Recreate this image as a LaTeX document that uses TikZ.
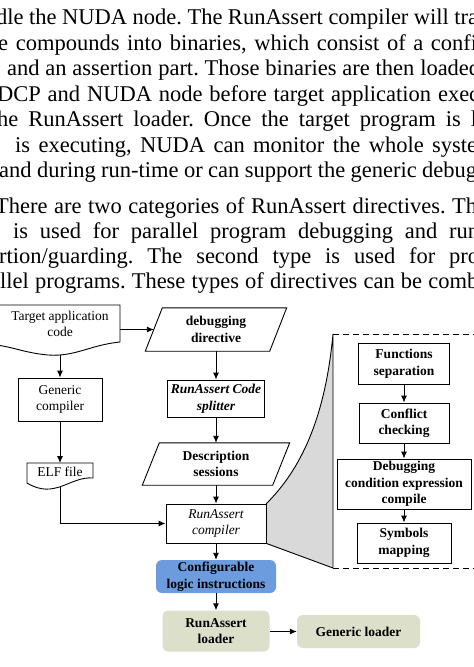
\documentclass[tikz,border=0pt]{standalone}
\usepackage{fontspec}
\setmainfont{Liberation Serif}
\usetikzlibrary{arrows.meta}
\frenchspacing

\definecolor{cfgblue}{HTML}{6C9BDE}
\definecolor{ldrgreen}{HTML}{DCE0CB}
\definecolor{zoomgrey}{HTML}{D9D9D9}

\tikzset{
  txtline/.style={anchor=base west, inner sep=0pt, font=\fontsize{22.5}{25}\selectfont},
  lbl/.style={inner sep=0pt, align=center, font=\fontsize{13.5}{16.5}\selectfont},
  box/.style={lbl, draw, line width=0.9pt},
  roundbox/.style={lbl, rounded corners=6pt},
  shp/.style={line width=0.9pt},
  arr/.style={line width=0.9pt, -{Latex[length=7pt,width=6pt]}}
}

\begin{document}
\begin{tikzpicture}[x=1pt,y=-1pt]
    \useasboundingbox (0,0) rectangle (474,667);
    \clip (0,0) rectangle (474,667);
    \fill[white] (0,0) rectangle (474,667);

    % paper text above the figure
    \node[txtline] (ta) at (-4,24) {\makebox[482pt][s]{dle the NUDA node. The RunAssert compiler will tra}};
    \node[txtline] (tb) at (-2,50) {\makebox[479pt][s]{e compounds into binaries, which consist of a confi}};
    \node[txtline] (tc) at (7,75.5) {\makebox[473pt][s]{and an assertion part. Those binaries are then loaded}};
    \node[txtline] (td) at (-3,101) {\makebox[482pt][s]{DCP and NUDA node before target application exec}};
    \node[txtline] (te) at (-3,126.5) {\makebox[480pt][s]{he RunAssert loader. Once the target program is l}};
    \node[txtline] (tf) at (15,152) {\makebox[462pt][s]{is executing, NUDA can monitor the whole syste}};
    \node[txtline] (tg) at (-1,177) {\makebox[478pt][s]{and during run-time or can support the generic debug}};
    \node[txtline] (th) at (-5,213) {\makebox[482pt][s]{There are two categories of RunAssert directives. Th}};
    \node[txtline] (ti) at (13,238) {\makebox[466pt][s]{is used for parallel program debugging and run}};
    \node[txtline] (tj) at (-1,263) {\makebox[480pt][s]{rtion/guarding. The second type is used for pro}};
    \node[txtline] (tk) at (0,288) {\makebox[478pt][s]{llel programs. These types of directives can be comb}};

    % left column
    \draw[shp] (-5,305) -- (120,305) -- (120,342) .. controls (90,345) and (75,357) .. (48,355)
        .. controls (25,353) and (10,346) .. (-5,345);
    \node[lbl] (tac) at (60,324) {Target application\\code};
    \coordinate (tace) at (120,329.5);
    \coordinate (tacb) at (60,355);
    \node[box, minimum width=84pt, minimum height=43pt] (gc) at (60,399.5) {Generic\\compiler};
    \draw[shp] (27,463) -- (93,463) -- (93,478) .. controls (70,476) and (55,500) .. (27,483) -- cycle;
    \node[lbl] (elf) at (60,472) {ELF file};
    \coordinate (elfb) at (60,486.5);

    % middle column
    \node[lbl, minimum width=124pt, minimum height=43pt] (dd) at (216,329.5) {\bfseries debugging\\\bfseries directive};
    \draw[shp] ([xshift=8.5pt]dd.north west) -- ([xshift=8.5pt]dd.north east)
        -- ([xshift=-8.5pt]dd.south east) -- ([xshift=-8.5pt]dd.south west) -- cycle;
    \node[box, minimum width=97pt, minimum height=37pt] (spl) at (216,398.5) {\bfseries\itshape RunAssert Code\\\bfseries\itshape splitter};
    \node[lbl, minimum width=130pt, minimum height=42pt] (ds) at (216,464) {\bfseries Description\\\bfseries sessions};
    \draw[shp] ([xshift=8.5pt]ds.north west) -- ([xshift=8.5pt]ds.north east)
        -- ([xshift=-8.5pt]ds.south east) -- ([xshift=-8.5pt]ds.south west) -- cycle;
    \node[box, minimum width=100pt, minimum height=39pt] (rac) at (216,523.5) {\itshape RunAssert\\\itshape compiler};
    \node[roundbox, fill=cfgblue, minimum width=120pt, minimum height=33pt] (cli) at (216,576.5) {\bfseries Configurable\\\bfseries logic instructions};
    \node[roundbox, fill=ldrgreen, minimum width=107pt, minimum height=41pt] (ral) at (216,631) {\bfseries RunAssert\\\bfseries loader};
    \node[roundbox, fill=ldrgreen, minimum width=123pt, minimum height=33pt] (gl) at (358.5,631.5) {\bfseries Generic loader};

    % zoom of the compiler
    \filldraw[shp, fill=zoomgrey] (rac.north east) .. controls (300,470) and (325,420) .. (333,334)
        -- (333,568) -- (rac.south east) -- cycle;
    \draw[shp, dash pattern=on 6pt off 4pt] (333,334) -- (480,334);
    \draw[shp, dash pattern=on 6pt off 4pt] (333,568) -- (480,568);
    \node[box, minimum width=91pt, minimum height=41pt] (fs) at (404,363.5) {\bfseries Functions\\\bfseries separation};
    \node[box, minimum width=90pt, minimum height=40pt] (cc) at (404,423) {\bfseries Conflict\\\bfseries checking};
    \node[box, minimum width=134pt, minimum height=50pt] (dce) at (404,484) {\bfseries Debugging\\\bfseries condition expression\\\bfseries compile};
    \node[box, minimum width=94pt, minimum height=40pt] (sm) at (404,543) {\bfseries Symbols\\\bfseries mapping};

    % connectors
    \draw[arr] (tace) -- (dd.west);
    \draw[arr] (tacb) -- (gc.north);
    \draw[arr] (gc.south) -- (elf.north |- 0,463);
    \draw[arr] (elfb) |- (rac.west);
    \draw[arr] (dd.south) -- (spl.north);
    \draw[arr] (spl.south) -- (ds.north);
    \draw[arr] (ds.south) -- (rac.north);
    \draw[arr] (rac.south) -- (cli.north);
    \draw[arr] (cli.south) -- (ral.north);
    \draw[arr] (ral.east |- gl.west) -- (gl.west);
    \draw[arr] (fs.south) -- (cc.north);
    \draw[arr] (cc.south) -- (dce.north);
    \draw[arr] (dce.south) -- (sm.north);
\end{tikzpicture}
\end{document}
